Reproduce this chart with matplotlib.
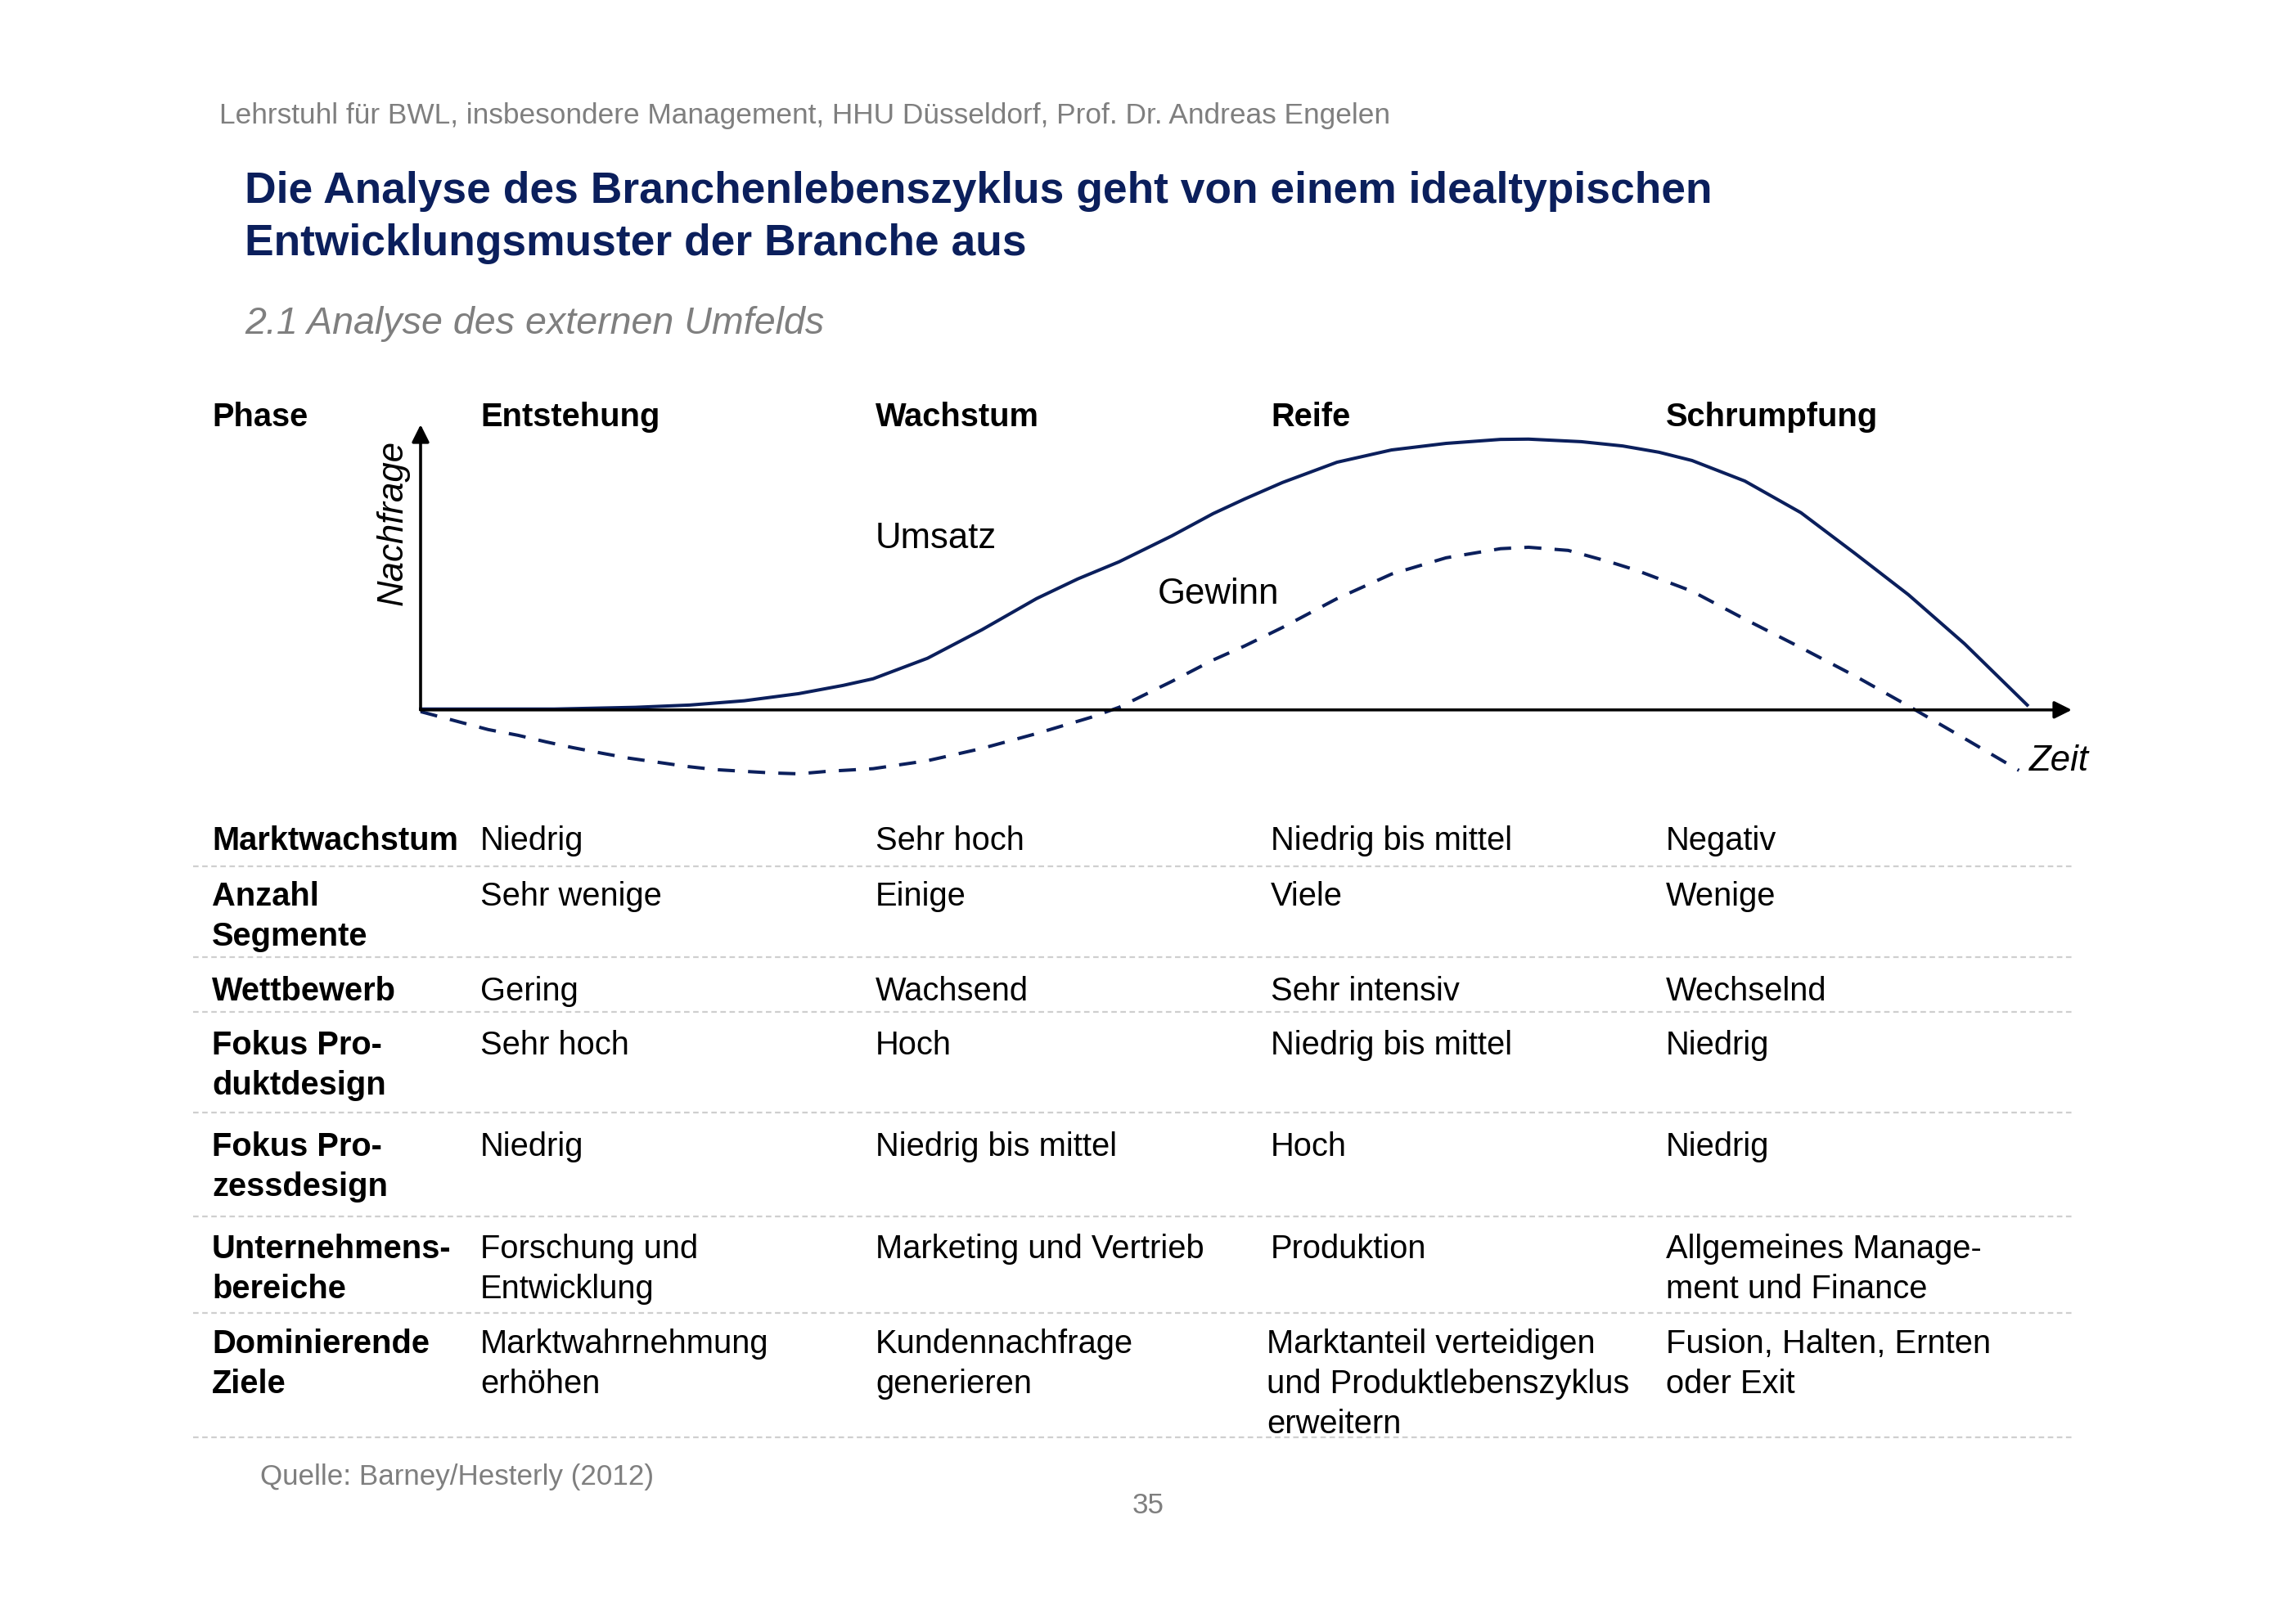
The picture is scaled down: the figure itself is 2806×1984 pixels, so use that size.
import matplotlib
matplotlib.use("Agg")
import matplotlib.pyplot as plt
from matplotlib.lines import Line2D

plt.rcParams["font.family"] = ["Liberation Sans", "DejaVu Sans"]

# --- data -------------------------------------------------------------
phases = ["Entstehung", "Wachstum", "Reife", "Schrumpfung"]

# Umsatz (solid) and Gewinn (dashed): time 0..100, demand in % of axis height
umsatz_t = [0, 8.1, 13.0, 16.3, 19.6, 22.9, 25.6, 27.4, 30.7, 34.0, 37.3, 39.8,
            42.3, 45.5, 48.0, 49.9, 52.2, 55.5, 58.8, 62.1, 65.4, 67.1, 70.3,
            72.8, 75.0, 77.0, 80.2, 83.6, 86.9, 90.1, 93.5, 97.3]
umsatz_v = [0.3, 0.3, 0.9, 1.7, 3.2, 5.7, 8.6, 10.9, 18.1, 28.1, 39.0, 45.9,
            51.9, 61.0, 68.8, 73.9, 79.7, 86.8, 91.1, 93.4, 94.8, 94.9, 94.0,
            92.5, 90.3, 87.4, 80.2, 69.1, 54.7, 40.4, 23.2, 1.7]
gewinn_t = [0, 2.4, 4.1, 5.9, 7.6, 9.2, 11.0, 12.6, 14.3, 16.1, 17.8, 19.5,
            21.3, 22.9, 24.7, 27.4, 30.7, 34.0, 37.3, 40.6, 42.3, 45.5, 48.0,
            49.9, 52.2, 55.5, 58.8, 62.1, 65.4, 67.1, 69.5, 72.0, 73.6, 77.0,
            80.2, 83.6, 86.9, 90.1, 93.5, 96.8]
gewinn_v = [-0.6, -4.3, -6.9, -8.9, -11.2, -13.2, -15.2, -16.9, -18.3, -19.8,
            -20.9, -21.5, -22.1, -22.4, -21.5, -20.6, -17.8, -13.5, -8.3, -2.6,
            0.9, 10.0, 17.5, 22.4, 28.9, 39.0, 47.6, 53.3, 56.5, 57.0, 55.9,
            51.9, 49.0, 41.6, 31.8, 21.8, 11.8, 1.4, -10.0, -21.2]

row_labels = ["Marktwachstum", "Anzahl\nSegmente", "Wettbewerb", "Fokus Pro-\nduktdesign",
              "Fokus Pro-\nzessdesign", "Unternehmens-\nbereiche", "Dominierende\nZiele"]
entstehung = ["Niedrig", "Sehr wenige", "Gering", "Sehr hoch", "Niedrig",
              "Forschung und\nEntwicklung", "Marktwahrnehmung\nerhöhen"]
wachstum = ["Sehr hoch", "Einige", "Wachsend", "Hoch", "Niedrig bis mittel",
            "Marketing und Vertrieb", "Kundennachfrage\ngenerieren"]
reife = ["Niedrig bis mittel", "Viele", "Sehr intensiv", "Niedrig bis mittel", "Hoch",
         "Produktion", "Marktanteil verteidigen\nund Produktlebenszyklus\nerweitern"]
schrumpfung = ["Negativ", "Wenige", "Wechselnd", "Niedrig", "Niedrig",
               "Allgemeines Manage-\nment und Finance", "Fusion, Halten, Ernten\noder Exit"]

# --- layout -----------------------------------------------------------
W, H = 2806, 1984
NAVY = "#0b1f5c"
GRAY = "#7f7f7f"
BODY = 28.7


def fx(px):
    return px / W


def fy(py):
    return 1 - py / H


fig = plt.figure(figsize=(W / 100, H / 100), dpi=100)
fig.patch.set_facecolor("white")

fig.text(fx(268), fy(141), "Lehrstuhl für BWL, insbesondere Management, HHU Düsseldorf, "
         "Prof. Dr. Andreas Engelen", fontsize=25.4, color=GRAY, va="center")
fig.text(fx(299), fy(209), "Die Analyse des Branchenlebenszyklus geht von einem idealtypischen\n"
         "Entwicklungsmuster der Branche aus", fontsize=38.4, fontweight="bold",
         color=NAVY, va="top", linespacing=1.36)
fig.text(fx(299), fy(396), "2.1 Analyse des externen Umfelds", fontsize=33.6,
         style="italic", color=GRAY, va="center")

# column positions
col_x = [587, 1070, 1553, 2036]
label_x = 259

fig.text(fx(label_x), fy(510), "Phase", fontsize=BODY, fontweight="bold", va="center")
for x, p in zip(col_x, phases):
    fig.text(fx(x), fy(510), p, fontsize=BODY, fontweight="bold", va="center")

# --- chart ------------------------------------------------------------
ax = fig.add_axes([fx(514), fy(955), (2532 - 514) / W, (955 - 519) / H])
ax.set_xlim(0, 100)
ax.set_ylim(-25, 100)
ax.axis("off")

arrow = dict(arrowstyle="-|>", lw=2.6, color="black", mutation_scale=32,
             shrinkA=0, shrinkB=0)
ax.annotate("", xy=(100, 0), xytext=(0, 0), arrowprops=arrow, annotation_clip=False)
ax.annotate("", xy=(0, 100), xytext=(0, 0), arrowprops=arrow, annotation_clip=False)

ax.plot(umsatz_t, umsatz_v, color=NAVY, lw=2.9, solid_joinstyle="round", clip_on=False)
ax.plot(gewinn_t, gewinn_v, color=NAVY, lw=2.9, dashes=(5.2, 4.0), clip_on=False)

fig.text(fx(1070), fy(659), "Umsatz", fontsize=31.5, va="center")
fig.text(fx(1415), fy(727), "Gewinn", fontsize=31.5, va="center")
fig.text(fx(2480), fy(930), "Zeit", fontsize=31.5, style="italic", va="center")
fig.text(fx(480), fy(639), "Nachfrage", fontsize=31.5, style="italic", rotation=90,
         ha="center", va="center")

# --- table ------------------------------------------------------------
row_y = [1024, 1092, 1208, 1274, 1398, 1523, 1639]
sep_y = [1059, 1170, 1237, 1360, 1487, 1605, 1757]

for i, lab in enumerate(row_labels):
    top = row_y[i] - 15
    fig.text(fx(label_x), fy(top), lab, fontsize=BODY, fontweight="bold", va="top",
             linespacing=1.36)
    for x, col in zip(col_x, [entstehung, wachstum, reife, schrumpfung]):
        # the last Reife cell sits a little further left in the original
        nudge = -5 if (col is reife and i == len(row_labels) - 1) else 0
        fig.text(fx(x + nudge), fy(top), col[i], fontsize=BODY, va="top",
                 linespacing=1.36)

for y in sep_y:
    fig.add_artist(Line2D([fx(236), fx(2532)], [fy(y), fy(y)], color="#cfcfcf",
                          lw=1.6, dashes=(3, 2)))

fig.text(fx(318), fy(1805), "Quelle: Barney/Hesterly (2012)", fontsize=25.2,
         color=GRAY, va="center")
fig.text(fx(1403), fy(1841), "35", fontsize=25.2, color=GRAY, ha="center", va="center")

fig.savefig("out.png", dpi=100)
